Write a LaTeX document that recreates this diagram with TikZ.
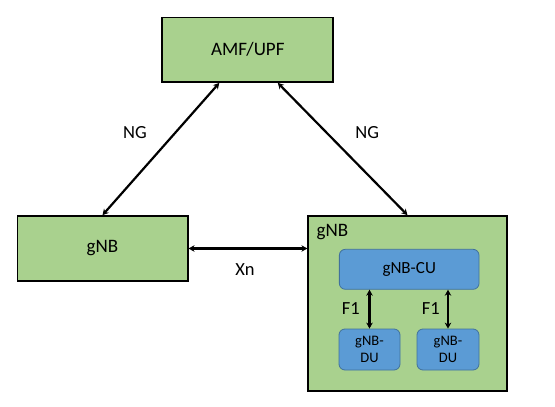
\documentclass[tikz,border=0pt]{standalone}
\usepackage{fontspec}
\setmainfont{Carlito}
\usetikzlibrary{arrows.meta,calc}
\definecolor{boxgreen}{HTML}{A9D18E}
\definecolor{boxblue}{HTML}{5B9BD5}
\definecolor{blueedge}{HTML}{41719C}
\tikzset{
  greenbox/.style={draw=black, line width=1.7pt, fill=boxgreen, inner sep=0pt, anchor=center},
  bluebox/.style={draw=blueedge, line width=0.8pt, fill=boxblue, rounded corners=6pt, inner sep=0pt, anchor=center, align=center},
  link/.style={line width=2.2pt, {Stealth[length=6pt,width=6.5pt]}-{Stealth[length=6pt,width=6.5pt]}},
  lbl/.style={font=\fontsize{18.5}{20}\selectfont, inner sep=0pt}
}
\begin{document}
\begin{tikzpicture}[x=1pt,y=-1pt]
\useasboundingbox (0,0) rectangle (555,407);
\node[greenbox, minimum width=171pt, minimum height=64.7pt, font=\fontsize{19}{21}\selectfont] (amf) at (247.8,49.7) {AMF/UPF};
\node[greenbox, minimum width=170.3pt, minimum height=65pt, font=\fontsize{19}{21}\selectfont] (gnbL) at (102.5,248.5) {gNB};
\node[greenbox, minimum width=198.5pt, minimum height=175pt] (gnbR) at (407.5,303.5) {};
\node[lbl, anchor=west, font=\fontsize{19}{21}\selectfont] (gnbRlbl) at (316.5,232.3) {gNB};
\node[bluebox, minimum width=139.7pt, minimum height=40pt, font=\fontsize{17}{19}\selectfont] (cu) at (409.2,269.3) {gNB-CU};
\node[bluebox, minimum width=61pt, minimum height=41pt, font=\fontsize{14.5}{16.7}\selectfont] (du1) at (369.5,349.5) {gNB-\\DU};
\node[bluebox, minimum width=62pt, minimum height=41pt, font=\fontsize{14.5}{16.7}\selectfont] (du2) at (448,349.5) {gNB-\\DU};
\draw[link] ($(amf.south)+(-28.5,0)$) -- (gnbL.north);
\draw[link] ($(amf.south)+(30,0)$) -- (gnbR.north);
\draw[link] (gnbL.east) -- (gnbL.east -| gnbR.west);
\draw[link] (du1.north |- cu.south) -- (du1.north);
\draw[link] (du2.north |- cu.south) -- (du2.north);
\node[lbl] (ng1) at (135,132.3) {NG};
\node[lbl] (ng2) at (367.3,132.3) {NG};
\node[lbl] (xn) at (245,270) {Xn};
\node[lbl] (f1a) at (350.8,309) {F1};
\node[lbl] (f1b) at (430.8,309) {F1};
\end{tikzpicture}
\end{document}
